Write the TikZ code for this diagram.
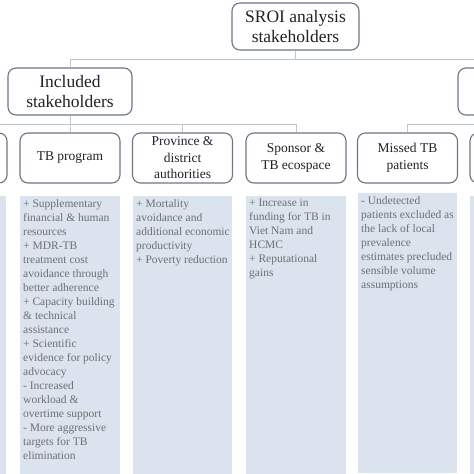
\documentclass[tikz,border=0pt]{standalone}
\usepackage{fontspec}
\setmainfont{Liberation Serif}
\usetikzlibrary{positioning}
\definecolor{srborder}{RGB}{106, 118, 132}
\definecolor{srline}{RGB}{190, 197, 204}
\definecolor{srfill}{RGB}{219, 227, 239}
\definecolor{srtext}{RGB}{34, 34, 34}
\definecolor{srgray}{RGB}{112, 112, 112}

\begin{document}
\begin{tikzpicture}[x=1pt, y=-1pt,
  rootbox/.style={draw=srborder, line width=1.1pt, rounded corners=8pt,
    align=center, text=srtext, font=\fontsize{17.5}{20}\selectfont,
    minimum width=127pt, minimum height=47pt, inner sep=0pt},
  groupbox/.style={rootbox, minimum width=124pt},
  leafbox/.style={draw=srborder, line width=1.1pt, rounded corners=8pt,
    align=center, text=srtext, font=\fontsize{13.5}{16.5}\selectfont,
    minimum width=100pt, minimum height=50pt, inner sep=0pt},
  panelbox/.style={fill=srfill, anchor=north west, minimum width=100pt,
    minimum height=280pt, inner sep=0pt},
  paneltext/.style={anchor=north west, align=left, text=srgray,
    font=\fontsize{11.5}{14}\selectfont, inner sep=3pt},
  link/.style={draw=srline, line width=0.9pt}]
  \useasboundingbox (0,0) rectangle (474,474);
  \clip (0,0) rectangle (474,474);

  % Top level
  \node[rootbox] (root) at (295.5,26.5) {SROI analysis\\stakeholders};

  % Second level
  \node[groupbox] (incl) at (70,91.5) {Included\\stakeholders};
  \node[groupbox] (excl) at (520,91.5) {};

  % Third level
  \node[leafbox] (lefty) at (-43,158) {};
  \node[leafbox] (tbprog) at (70,158) {TB program};
  \node[leafbox] (prov) at (182.5,158) {Province \&\\district\\authorities};
  \node[leafbox] (spon) at (296,158) {Sponsor \&\\TB ecospace};
  \node[leafbox] (missed) at (407.5,158) {Missed TB\\patients};
  \node[leafbox] (righty) at (520,158) {};

  % Connectors
  \draw[link] (root.south) -- ++(0,9) -| (incl.north);
  \draw[link] (root.south) -- ++(0,9) -| (excl.north);
  \foreach \kid in {lefty, tbprog, prov, spon}
    \draw[link] (incl.south) -- ++(0,9) -| (\kid.north);
  \foreach \kid in {missed, righty}
    \draw[link] (excl.south) -- ++(0,9) -| (\kid.north);

  % Panels
  \node[panelbox] (leftpan) at (-94,196) {};
  \node[panelbox] (tbpan) at (20,196) {};
  \node[panelbox, minimum width=99pt] (provpan) at (133,196) {};
  \node[panelbox] (sponpan) at (246,196) {};
  \node[panelbox, minimum width=99pt] (misspan) at (358,193) {};
  \node[panelbox] (rightpan) at (470,196) {};

  % Panel texts
  \node[paneltext] (tbtxt) at (tbpan.north west) {+ Supplementary\\financial \& human\\resources\\+ MDR-TB\\treatment cost\\avoidance through\\better adherence\\+ Capacity building\\\& technical\\assistance\\+ Scientific\\evidence for policy\\advocacy\\- Increased\\workload \&\\overtime support\\- More aggressive\\targets for TB\\elimination};
  \node[paneltext] (provtxt) at (provpan.north west) {+ Mortality\\avoidance and\\additional economic\\productivity\\+ Poverty reduction};
  \node[paneltext] (spontxt) at (sponpan.north west) {+ Increase in\\funding for TB in\\Viet Nam and\\HCMC\\+ Reputational\\gains};
  \node[paneltext] (misstxt) at (misspan.north west) {- Undetected\\patients excluded as\\the lack of local\\prevalence\\estimates precluded\\sensible volume\\assumptions};
\end{tikzpicture}
\end{document}
